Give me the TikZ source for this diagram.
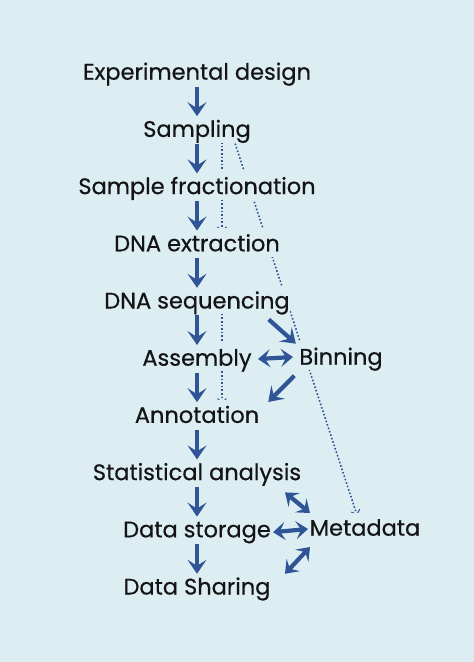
\documentclass[tikz,border=0pt]{standalone}
\usepackage{fontspec}
\setmainfont{Poppins}[FakeBold=0.5]
\usetikzlibrary{positioning,calc,arrows.meta,backgrounds}
\definecolor{paper}{RGB}{221,238,243}
\definecolor{flowblue}{RGB}{47,85,151}
\definecolor{ink}{RGB}{20,20,22}
\tikzset{
	stagebox/.style={fill=paper, text=ink, inner xsep=0pt, inner ysep=1pt,
		text height=22pt, text depth=4.6pt, font=\fontsize{22.5}{26}\selectfont},
	flowarrow/.style={flowblue, line width=4.2pt, shorten <=1pt, shorten >=-2.5pt,
		-{Stealth[length=14pt,width=19pt,inset=6pt]}},
	linkarrow/.style={flowblue, line width=4.2pt,
		{Stealth[length=12pt,width=18pt,inset=5pt]}-{Stealth[length=12pt,width=18pt,inset=5pt]}},
	dotlink/.style={flowblue, line width=1.6pt, dotted,
		-{Straight Barb[length=4pt,width=9pt,line width=1pt]}},
}

\begin{document}
\begin{tikzpicture}[x=1pt, y=-1pt, node distance=28.2pt]
\useasboundingbox (0,0) rectangle (474,662);

\node[stagebox] (exp) at (197,71) {Experimental design};
\node[stagebox, below=of exp] (samp) {Sampling};
\node[stagebox, below=of samp] (frac) {Sample fractionation};
\node[stagebox, below=of frac] (ext) {DNA extraction};
\node[stagebox, below=of ext] (seq) {DNA sequencing};
\node[stagebox, below=of seq] (asm) {Assembly};
\node[stagebox, below=of asm] (ann) {Annotation};
\node[stagebox, below=of ann] (stat) {Statistical analysis};
\node[stagebox, below=of stat] (store) {Data storage};
\node[stagebox, below=of store] (share) {Data Sharing};
\node[stagebox] (bin) at (341,356) {Binning};
\node[stagebox] (meta) at (365,527) {Metadata};

\begin{scope}[on background layer]
	\fill[paper] (0,0) rectangle (474,662);
	% dotted side links
	\draw[dotlink] ($(samp)+(25,14)$) -- ($(ext)+(25,-11)$);
	\draw[dotlink] ($(seq)+(25,14)$) -- ($(ann)+(25,-11)$);
	\draw[dotlink] ($(samp)+(37,12)$) -- ($(meta)+(-8,-12)$);
\end{scope}

% main chain
\draw[flowarrow] (exp) -- (samp);
\draw[flowarrow] (samp) -- (frac);
\draw[flowarrow] (frac) -- (ext);
\draw[flowarrow] (ext) -- (seq);
\draw[flowarrow] (seq) -- (asm);
\draw[flowarrow] (asm) -- (ann);
\draw[flowarrow] (ann) -- (stat);
\draw[flowarrow] (stat) -- (store);
\draw[flowarrow] (store) -- (share);

% binning
\draw[flowarrow] ($(seq)+(71,19)$) -- ($(bin)+(-47,-14)$);
\draw[linkarrow] ($(asm)+(61,2)$) -- ($(bin)+(-48,1)$);
\draw[flowarrow] ($(bin)+(-46,19)$) -- ($(ann)+(73,-14)$);

% metadata
\draw[linkarrow] ($(stat)+(88,21)$) -- ($(meta)+(-55,-14)$);
\draw[linkarrow] ($(store)+(76,3.6)$) -- ($(meta)+(-57,2)$);
\draw[linkarrow] ($(share)+(88,-12)$) -- ($(meta)+(-55,20)$);
\end{tikzpicture}
\end{document}
